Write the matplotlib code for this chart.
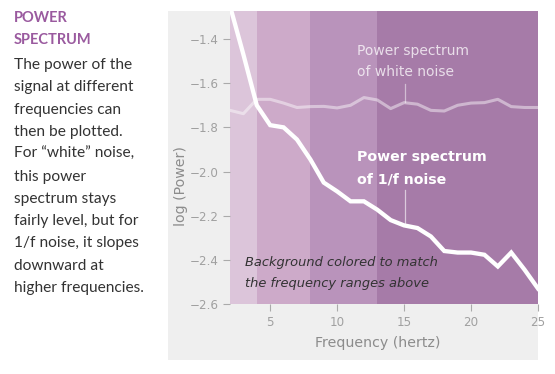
import matplotlib.pyplot as plt
from matplotlib.patches import Rectangle

plt.rcParams['font.family'] = ['Lato', 'DejaVu Sans']

# frequency (hertz)
freq = [2, 3, 4, 5, 6, 7, 8, 9, 10, 11, 12, 13, 14, 15, 16, 17, 18, 19, 20, 21, 22, 23, 24, 25]
# log power, 1/f noise
pink = [-1.25, -1.47, -1.70, -1.79, -1.80, -1.855, -1.945, -2.05, -2.09, -2.135, -2.135, -2.173,
        -2.22, -2.244, -2.256, -2.294, -2.36, -2.367, -2.367, -2.377, -2.43, -2.367, -2.445, -2.53]
# log power, white noise
white = [-1.723, -1.738, -1.673, -1.673, -1.69, -1.71, -1.706, -1.705, -1.712, -1.70, -1.665, -1.676,
         -1.715, -1.688, -1.695, -1.723, -1.726, -1.70, -1.69, -1.688, -1.673, -1.706, -1.71, -1.71]

# frequency bands for the background
band_edges = [2, 4, 8, 13, 25]
band_colors = ['#dcc5da', '#cdaac9', '#b993bb', '#a67ba8']

body = ['The power of the', 'signal at different', 'frequencies can', 'then be plotted.',
        'For \u201cwhite\u201d noise,', 'this power', 'spectrum stays', 'fairly level, but for',
        '1/f noise, it slopes', 'downward at', 'higher frequencies.']

W, H = 555, 374
DV = 'DejaVu Sans'
fig = plt.figure(figsize=(W / 100, H / 100), dpi=100)
fig.patch.set_facecolor('white')

# gray panel behind the chart
fig.patches.append(Rectangle((168 / W, 1 - 360 / H), 370 / W, 349 / H,
                             transform=fig.transFigure, facecolor='#efefef',
                             edgecolor='none', zorder=-5))

ax = fig.add_axes([230 / W, 1 - 304 / H, 308 / W, 293 / H])
ax.set_zorder(2)
ax.set_facecolor('#efefef')

for i in range(len(band_colors)):
    ax.axvspan(band_edges[i], band_edges[i + 1], color=band_colors[i], lw=0, zorder=0)

ax.plot(freq, white, color='white', alpha=0.45, lw=2.2, zorder=2)
ax.plot(freq, pink, color='white', lw=3.1, zorder=3, solid_joinstyle='miter')

ax.set_xlim(2, 25)
ax.set_ylim(-2.6, -1.273)
ax.set_xticks([5, 10, 15, 20, 25])
ax.set_yticks([-1.4, -1.6, -1.8, -2.0, -2.2, -2.4, -2.6])
ax.set_yticklabels(['\u22121.4', '\u22121.6', '\u22121.8', '\u22122.0', '\u22122.2', '\u22122.4', '\u22122.6'])
for s in ax.spines.values():
    s.set_visible(False)
ax.tick_params(colors='#aaaaaa', labelcolor='#a0a0a0', labelsize=8.6, length=5, width=0.8)
ax.tick_params(axis='x', pad=3.6)
ax.tick_params(axis='y', pad=3)
for lab in ax.get_xticklabels() + ax.get_yticklabels():
    lab.set_family(DV)

# axis titles
fig.text(378 / W, 1 - 343.5 / H, 'Frequency (hertz)', color='#8c8c8c', fontsize=10.2,
         family=DV, ha='center', va='center')
fig.text(181 / W, 1 - 186 / H, 'log (Power)', color='#8c8c8c', fontsize=10.2,
         family=DV, ha='center', va='center', rotation=90)

# annotations
ax.text(11.45, -1.455, 'Power spectrum', color='white', alpha=0.75, fontsize=10,
        family=DV, va='center')
ax.text(11.45, -1.55, 'of white noise', color='white', alpha=0.75, fontsize=10,
        family=DV, va='center')
ax.plot([15.05, 15.05], [-1.605, -1.686], color='white', alpha=0.5, lw=0.9)

ax.text(11.5, -1.935, 'Power spectrum', color='white', fontsize=10.2, va='center',
        family=DV, weight='bold')
ax.text(11.5, -2.035, 'of 1/f noise', color='white', fontsize=10.2, va='center',
        family=DV, weight='bold')
ax.plot([15.05, 15.05], [-2.082, -2.24], color='white', alpha=0.6, lw=0.9)

ax.text(3.1, -2.414, 'Background colored to match', color='#333333', fontsize=9.4,
        family=DV, style='italic', va='center')
ax.text(3.1, -2.505, 'the frequency ranges above', color='#333333', fontsize=9.4,
        family=DV, style='italic', va='center')

# left column text
fig.text(14 / W, 1 - 18 / H, 'POWER', color='#9a5a9f', fontsize=10.5, weight='bold', va='center')
fig.text(14 / W, 1 - 40 / H, 'SPECTRUM', color='#9a5a9f', fontsize=10.5, weight='bold', va='center')
for i, line in enumerate(body):
    fig.text(14 / W, 1 - (65 + 22.3 * i) / H, line, color='#333333', fontsize=11.2, va='center')

fig.savefig('out.png', dpi=100)
